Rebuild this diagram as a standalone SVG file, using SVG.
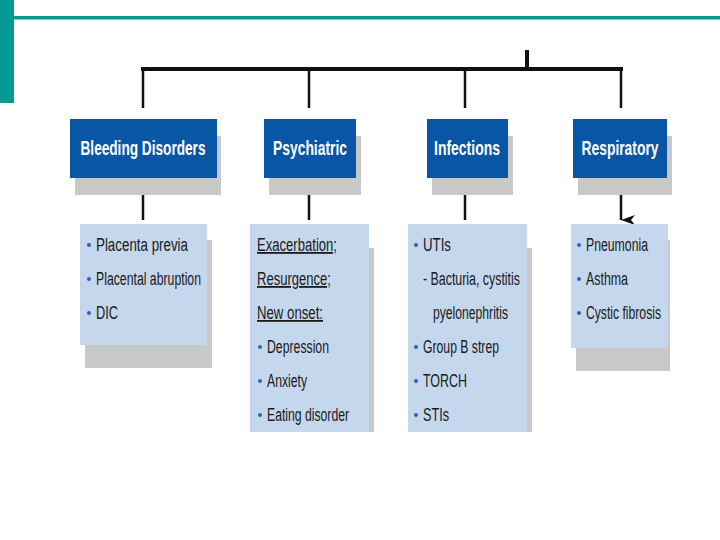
<svg xmlns="http://www.w3.org/2000/svg" width="720" height="540" viewBox="0 0 720 540">
<defs>
<style>
.hd{fill:#0a56a6}
.sh{fill:#c8c8c8}
.bx{fill:#c5d7ec}
.ht{font-family:"Liberation Sans",Arial,sans-serif;font-weight:bold;font-size:21px;fill:#fff;text-anchor:middle}
.t{font-family:"Liberation Sans",Arial,sans-serif;font-size:18px;fill:#1a1a1a}
.b{fill:#2a66b0}
.u{text-decoration:underline}
</style>
<marker id="ar" viewBox="0 0 10 14" refX="5" refY="14" markerWidth="10" markerHeight="14" markerUnits="userSpaceOnUse" orient="auto-start-reverse">
<path d="M0,0 L5,4 L10,0 L5,14 Z" fill="#111"/>
</marker>
</defs>
<rect width="720" height="540" fill="#fff"/>
<rect x="0" y="0" width="14" height="103" fill="#069a94"/>
<rect x="14" y="16" width="706" height="3.5" fill="#069a94"/>
<g id="connectors" stroke="#111" fill="none">
<path d="M527,50 V69 M141,69 H623" stroke-width="4"/>
<path d="M143,69 V108 M309,69 V108 M465,69 V108 M621,69 V108 M143,178 V220 M309,178 V220 M465,178 V220 M621,178 V220" stroke-width="2.5" marker-end="url(#ar)"/>
</g>
<g id="n-bleeding">
<rect class="sh" x="75" y="136" width="146" height="59"/>
<rect class="hd" x="70" y="119" width="147" height="59"/>
<text class="ht" x="143" y="155" textLength="125" lengthAdjust="spacingAndGlyphs">Bleeding Disorders</text>
</g>
<g id="n-psych">
<rect class="sh" x="269" y="136" width="92" height="59"/>
<rect class="hd" x="264" y="119" width="92" height="59"/>
<text class="ht" x="310" y="155" textLength="74" lengthAdjust="spacingAndGlyphs">Psychiatric</text>
</g>
<g id="n-inf">
<rect class="sh" x="432" y="136" width="81" height="59"/>
<rect class="hd" x="427" y="119" width="81" height="59"/>
<text class="ht" x="467" y="155" textLength="66" lengthAdjust="spacingAndGlyphs">Infections</text>
</g>
<g id="n-resp">
<rect class="sh" x="578" y="136" width="94" height="59"/>
<rect class="hd" x="573" y="119" width="94" height="59"/>
<text class="ht" x="620" y="155" textLength="77" lengthAdjust="spacingAndGlyphs">Respiratory</text>
</g>
<g id="l-bleeding">
<rect class="sh" x="85" y="240" width="127" height="128"/>
<rect class="bx" x="80" y="224" width="127" height="121"/>
<circle class="b" cx="89" cy="245" r="2"/><text class="t" x="96" y="251" textLength="92" lengthAdjust="spacingAndGlyphs">Placenta previa</text>
<circle class="b" cx="89" cy="279" r="2"/><text class="t" x="96" y="285" textLength="105" lengthAdjust="spacingAndGlyphs">Placental abruption</text>
<circle class="b" cx="89" cy="313" r="2"/><text class="t" x="96" y="319" textLength="22" lengthAdjust="spacingAndGlyphs">DIC</text>
</g>
<g id="l-psych">
<rect class="sh" x="255" y="248" width="119" height="184"/>
<rect class="bx" x="250" y="224" width="119" height="208"/>
<text class="t u" x="257" y="251" textLength="80" lengthAdjust="spacingAndGlyphs">Exacerbation;</text>
<text class="t u" x="257" y="285" textLength="74" lengthAdjust="spacingAndGlyphs">Resurgence;</text>
<text class="t u" x="257" y="319" textLength="66" lengthAdjust="spacingAndGlyphs">New onset:</text>
<circle class="b" cx="260" cy="347" r="2"/><text class="t" x="267" y="353" textLength="62" lengthAdjust="spacingAndGlyphs">Depression</text>
<circle class="b" cx="260" cy="381" r="2"/><text class="t" x="267" y="387" textLength="40" lengthAdjust="spacingAndGlyphs">Anxiety</text>
<circle class="b" cx="260" cy="415" r="2"/><text class="t" x="267" y="421" textLength="82" lengthAdjust="spacingAndGlyphs">Eating disorder</text>
</g>
<g id="l-inf">
<rect class="sh" x="413" y="248" width="119" height="184"/>
<rect class="bx" x="408" y="224" width="119" height="208"/>
<circle class="b" cx="416" cy="245" r="2"/><text class="t" x="423" y="251" textLength="28" lengthAdjust="spacingAndGlyphs">UTIs</text>
<text class="t" x="423" y="285" textLength="97" lengthAdjust="spacingAndGlyphs">- Bacturia, cystitis</text>
<text class="t" x="433" y="319" textLength="75" lengthAdjust="spacingAndGlyphs">pyelonephritis</text>
<circle class="b" cx="416" cy="347" r="2"/><text class="t" x="423" y="353" textLength="76" lengthAdjust="spacingAndGlyphs">Group B strep</text>
<circle class="b" cx="416" cy="381" r="2"/><text class="t" x="423" y="387" textLength="44" lengthAdjust="spacingAndGlyphs">TORCH</text>
<circle class="b" cx="416" cy="415" r="2"/><text class="t" x="423" y="421" textLength="26" lengthAdjust="spacingAndGlyphs">STIs</text>
</g>
<g id="l-resp">
<rect class="sh" x="576" y="240" width="94" height="131"/>
<rect class="bx" x="571" y="224" width="97" height="124"/>
<circle class="b" cx="579" cy="245" r="2"/><text class="t" x="586" y="251" textLength="62" lengthAdjust="spacingAndGlyphs">Pneumonia</text>
<circle class="b" cx="579" cy="279" r="2"/><text class="t" x="586" y="285" textLength="42" lengthAdjust="spacingAndGlyphs">Asthma</text>
<circle class="b" cx="579" cy="313" r="2"/><text class="t" x="586" y="319" textLength="75" lengthAdjust="spacingAndGlyphs">Cystic fibrosis</text>
</g>
</svg>
